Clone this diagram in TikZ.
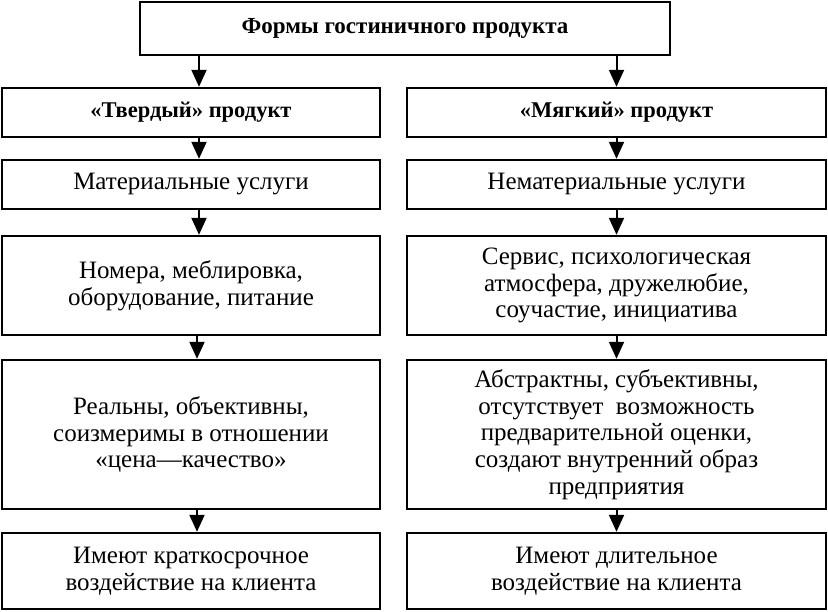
\documentclass[tikz,border=0pt]{standalone}
\usepackage{fontspec}
\setmainfont{Liberation Serif}
\usetikzlibrary{arrows.meta}

\tikzset{
  caja/.style={draw=black, line width=2.4pt, minimum width=378pt, align=center,
    inner sep=0pt, font=\fontsize{25}{26.7}\selectfont},
  titulo/.style={caja, font=\fontsize{22.5}{26}\selectfont\bfseries},
  flecha/.style={line width=2pt, -{Triangle[length=17pt,width=15pt]}}
}

\begin{document}
\begin{tikzpicture}[x=1pt, y=-1pt]
  \useasboundingbox (0,0) rectangle (828,611);

  % Encabezado
  \node[titulo, minimum width=530pt, minimum height=53pt, font=\fontsize{23}{26}\selectfont\bfseries] (forma) at (405,28.5) {Формы гостиничного продукта};

  % Columna izquierda
  \node[titulo, minimum height=49pt] (tverd) at (191,112.5) {«Твердый» продукт};
  \node[caja, minimum height=49pt] (mater) at (191,184.5) {Материальные услуги};
  \node[caja, minimum height=99pt] (nomer) at (191,285.5) {Номера, меблировка,\\оборудование, питание};
  \node[caja, minimum height=149pt] (realn) at (191,434.5) {Реальны, объективны,\\соизмеримы в отношении\\«цена—качество»};
  \node[caja, minimum height=76pt] (kratk) at (191,571) {Имеют краткосрочное\\воздействие на клиента};

  % Columna derecha
  \node[titulo, minimum width=419pt, minimum height=49pt] (myagk) at (616.5,112.5) {«Мягкий» продукт};
  \node[caja, minimum width=419pt, minimum height=49pt] (nemat) at (616.5,184.5) {Нематериальные услуги};
  \node[caja, minimum width=419pt, minimum height=99pt] (servis) at (616.5,285.5) {Сервис, психологическая\\атмосфера, дружелюбие,\\соучастие, инициатива};
  \node[caja, minimum width=419pt, minimum height=149pt] (abstr) at (616.5,434.5) {Абстрактны, субъективны,\\отсутствует\ \ возможность\\предварительной оценки,\\создают внутренний образ\\предприятия};
  \node[caja, minimum width=419pt, minimum height=76pt] (dlit) at (616.5,571) {Имеют длительное\\воздействие на клиента};

  % Flechas
  \draw[flecha] ([xshift=8pt]forma.south -| tverd.north) -- ([xshift=8pt]tverd.north);
  \draw[flecha] (forma.south -| myagk.north) -- (myagk.north);
  \foreach \a/\b/\d in {tverd/mater/8pt, mater/nomer/8pt, nomer/realn/6pt, realn/kratk/6pt,
                        myagk/nemat/0pt, nemat/servis/0pt, servis/abstr/0pt, abstr/dlit/0pt}
    \draw[flecha] ([xshift=\d]\a.south) -- ([xshift=\d]\b.north);
\end{tikzpicture}
\end{document}
